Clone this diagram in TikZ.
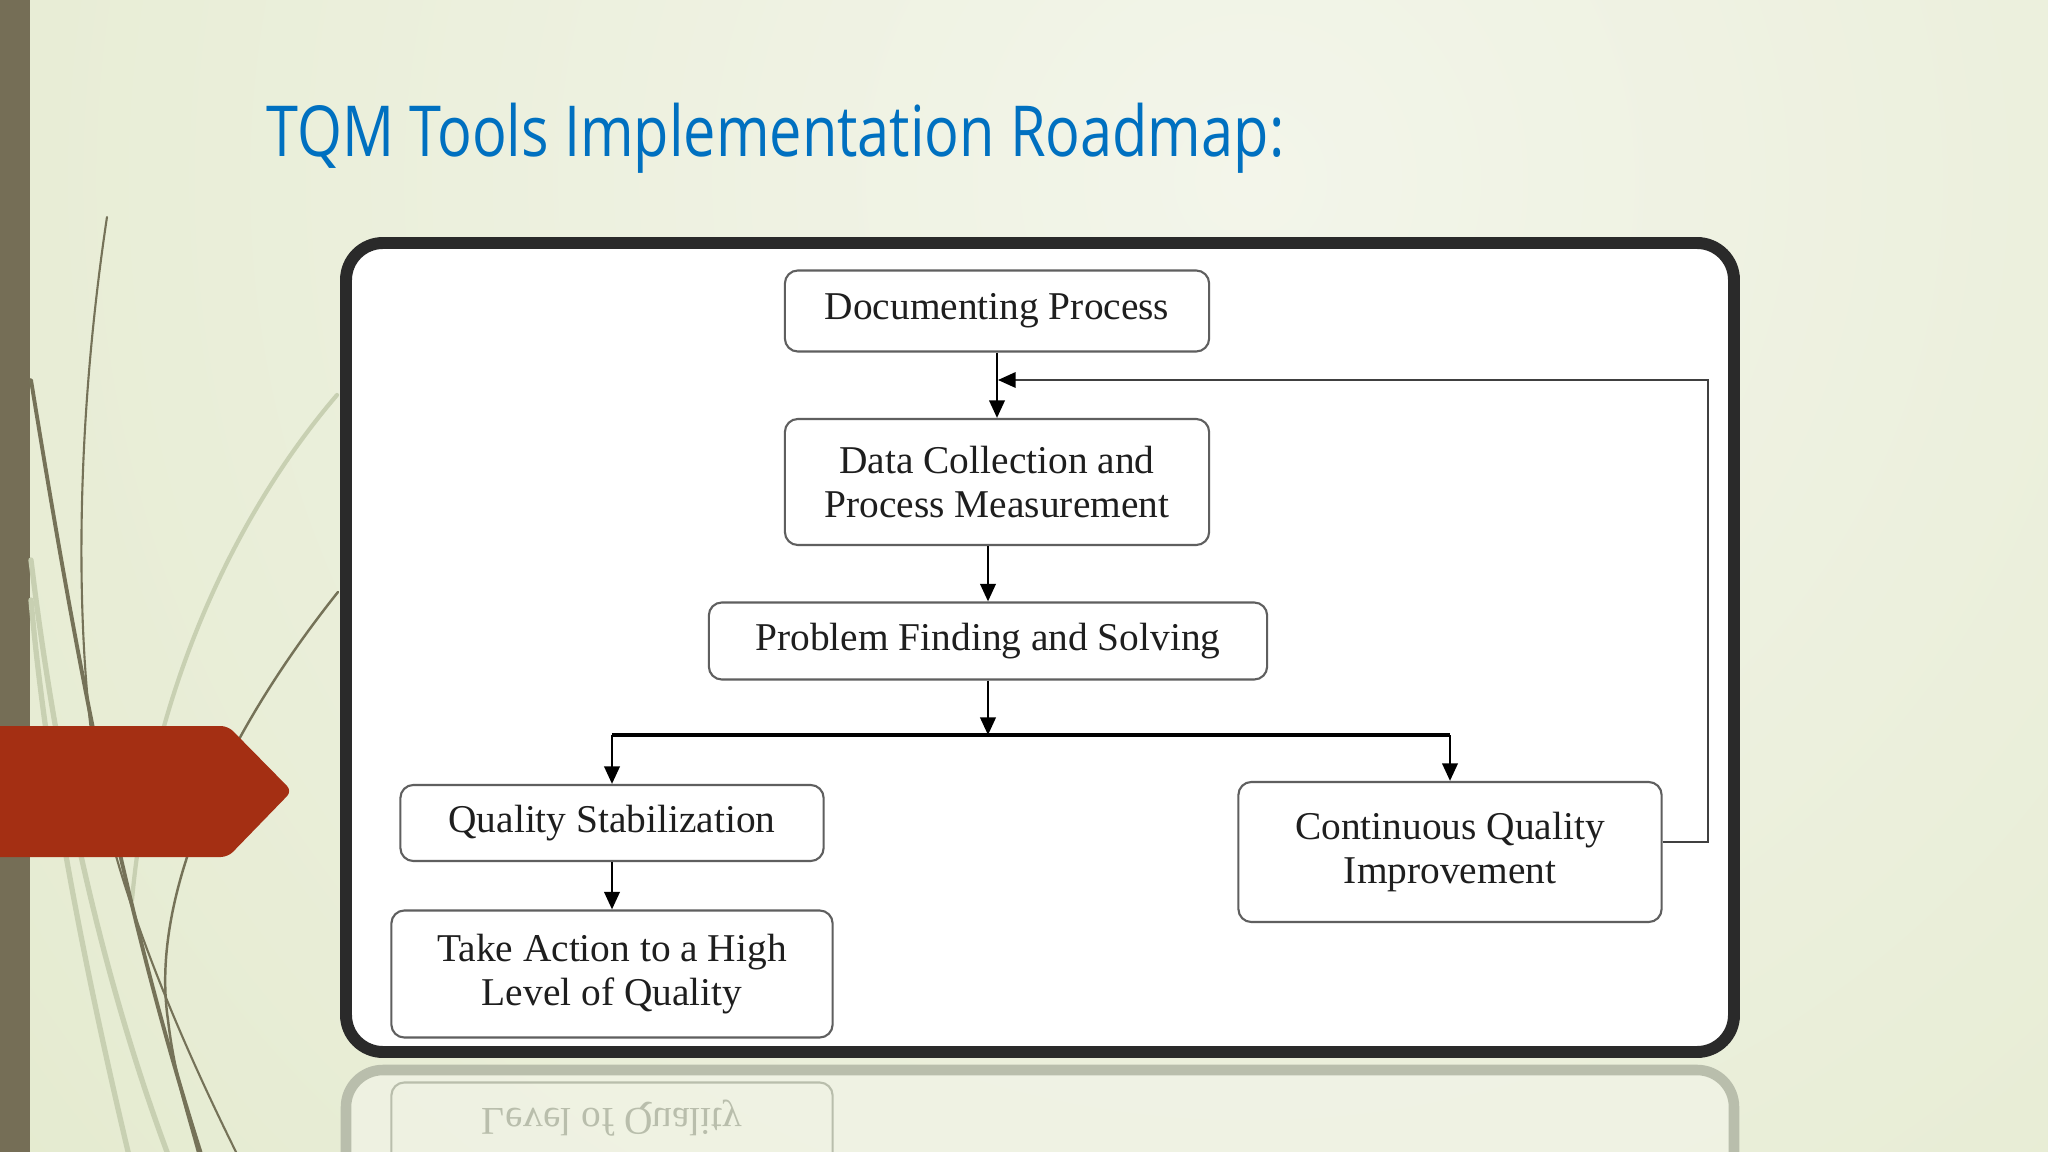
\documentclass[tikz,border=0pt]{standalone}
\usepackage{fontspec}
\setmainfont{Liberation Serif}
\newfontfamily\titlefont[FakeStretch=0.82]{Open Sans}
\usetikzlibrary{arrows.meta}

\definecolor{slidebg}{RGB}{225,232,201}
\definecolor{slidelight}{RGB}{243,245,234}
\definecolor{stripcol}{RGB}{117,110,86}
\definecolor{swoosh}{RGB}{117,114,88}
\definecolor{paleswoosh}{RGB}{200,208,178}
\definecolor{tabred}{RGB}{164,47,19}
\definecolor{titleblue}{RGB}{0,112,192}
\definecolor{framecol}{RGB}{42,42,42}
\definecolor{boxline}{RGB}{95,95,95}
\definecolor{boxtext}{RGB}{30,30,30}
\definecolor{mirrorcol}{RGB}{185,190,172}

\newcommand\flowfont{\fontsize{11.2}{12.6}\selectfont}

\begin{document}
\begin{tikzpicture}[x=0.01cm,y=-0.01cm]
  % slide background
  \clip (0,0) rectangle (2048,1152);
  \fill[slidebg] (0,0) rectangle (2048,1152);
  \shade[inner color=slidelight,outer color=slidebg] (1250,180) circle (20cm);
  \fill[stripcol] (0,0) rectangle (30,1152);

  % swooshes on the left
  \begin{scope}[line cap=round]
    \draw[paleswoosh,line width=1.5pt] (31,560) .. controls (60,800) and (110,1000) .. (170,1160);
    \draw[paleswoosh,line width=1.5pt] (31,600) .. controls (45,760) and (80,950) .. (130,1160);
    \draw[paleswoosh,line width=1.2pt] (337,395) .. controls (230,520) and (150,700) .. (132,900);
    \draw[swoosh,line width=1.1pt] (31,380) .. controls (75,650) and (120,900) .. (203,1160);
    \draw[swoosh,line width=0.6pt] (107,217) .. controls (72,450) and (78,650) .. (95,760) .. controls (110,870) and (170,1020) .. (240,1160);
    \draw[swoosh,line width=0.7pt] (338,592) .. controls (220,740) and (150,900) .. (168,1020) .. controls (175,1080) and (190,1120) .. (200,1160);
  \end{scope}

  % red tab
  \fill[tabred,rounded corners=2pt] (-10,726) -- (228,726) -- (292,791) -- (228,857) -- (-10,857) -- cycle;

  % title
  \node[anchor=base west,inner sep=0pt,text=titleblue,font=\titlefont\fontsize{20}{24}\selectfont] (title) at (266,157) {TQM Tools Implementation Roadmap:};

  % reflection under the frame
  \fill[slidelight,opacity=0.6,rounded corners=0.37cm] (346,1070) rectangle (1734,1250);
  \draw[mirrorcol,line width=3pt,rounded corners=0.37cm] (346,1250) -- (346,1070) -- (1734,1070) -- (1734,1250);
  \node[draw=mirrorcol,line width=0.6pt,rounded corners=0.13cm,inner sep=0pt,
    minimum width=4.41cm,minimum height=1.27cm] (refl) at (612,1146) {};
  \begin{scope}[shift={(612,1118)}]
    \node[transform shape,yscale=-1,text=mirrorcol,font=\flowfont,inner sep=0pt] (refltext) at (0,0) {Level of Quality};
  \end{scope}

  % frame
  \draw[framecol,line width=3.4pt,fill=white,rounded corners=0.37cm] (346,243) rectangle (1734,1052);

  % boxes
  \begin{scope}[every node/.style={draw=boxline,line width=0.6pt,rounded corners=0.13cm,fill=white,
      text=boxtext,font=\flowfont,align=center,inner sep=0pt}]
    \node[minimum width=4.24cm,minimum height=0.81cm] (doc) at (997,311) {Documenting Process};
    \node[minimum width=4.24cm,minimum height=1.26cm] (data) at (997,482) {Data Collection and\\Process Measurement};
    \node[minimum width=5.58cm,minimum height=0.77cm] (prob) at (988,641) {Problem Finding and Solving};
    \node[minimum width=4.23cm,minimum height=0.76cm] (stab) at (612,823) {Quality Stabilization};
    \node[minimum width=4.41cm,minimum height=1.27cm] (act) at (612,974) {Take Action to a High\\Level of Quality};
    \node[minimum width=4.23cm,minimum height=1.40cm] (cqi) at (1450,852) {Continuous Quality\\Improvement};
  \end{scope}

  \coordinate (merge) at (998,380);
  \coordinate (fbk) at (1708,380);
  \coordinate (split) at (988,735);
  \coordinate (splitl) at (612,735);
  \coordinate (splitr) at (1450,735);

  \begin{scope}[>={Triangle[black,length=5pt,width=4.4pt]},
      every edge/.style={draw=black,line width=0.7pt}]
    \path [->] (doc) edge (data);
    \path [->] (prob.north |- data.south) edge (prob.north);
    \path [->] (prob) edge (split);
    \draw[line width=1.1pt] (splitl) -- (splitr);
    \path [->] (splitl) edge (stab);
    \path [->] (splitr) edge (cqi);
    \path [->] (stab) edge (act);
    \draw[->,black!75,line width=0.5pt] ([yshift=0.1cm]cqi.east) -| (fbk) -- (merge);
  \end{scope}
\end{tikzpicture}
\end{document}
